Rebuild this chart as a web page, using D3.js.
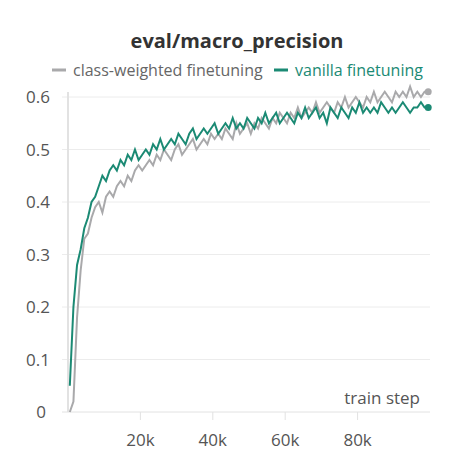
<!DOCTYPE html>
<html><head><meta charset="utf-8">
<script src="https://cdn.jsdelivr.net/npm/d3@7"></script>
<style>body{margin:0;background:#fff;font-family:"Source Sans Pro","Open Sans","Noto Sans",sans-serif}</style>
</head><body><svg id="c" width="474" height="474"></svg>
<script>
const seriesNames = ["class-weighted finetuning","vanilla finetuning"];
const colors = ["#a9a9ab","#1b8a74"];
const yTicks = [0,0.1,0.2,0.3,0.4,0.5,0.6];
const xTicks = [20000,40000,60000,80000];
const weighted = [0.00,0.02,0.18,0.27,0.33,0.34,0.37,0.39,0.40,0.38,0.41,0.42,0.41,0.43,0.44,0.43,0.45,0.44,0.46,0.47,0.46,0.47,0.48,0.47,0.49,0.48,0.50,0.49,0.48,0.50,0.51,0.49,0.50,0.51,0.52,0.50,0.51,0.52,0.51,0.53,
0.52,0.53,0.52,0.54,0.53,0.52,0.55,0.53,0.54,0.55,0.53,0.55,0.54,0.56,0.55,0.54,0.56,0.55,0.57,0.56,0.55,0.57,0.56,0.58,0.56,0.57,0.58,0.57,0.59,0.57,0.58,0.59,0.58,0.57,0.59,0.58,0.60,0.58,0.59,0.60,
0.59,0.58,0.60,0.59,0.61,0.59,0.60,0.61,0.60,0.59,0.61,0.60,0.61,0.60,0.62,0.60,0.61,0.60,0.61,0.61];
const vanilla = [0.05,0.20,0.28,0.31,0.35,0.37,0.40,0.41,0.43,0.45,0.44,0.46,0.47,0.46,0.48,0.47,0.49,0.48,0.50,0.48,0.49,0.50,0.49,0.51,0.50,0.52,0.50,0.51,0.52,0.51,0.53,0.52,0.51,0.53,0.54,0.52,0.53,0.54,0.53,0.54,
0.55,0.53,0.54,0.55,0.54,0.56,0.54,0.55,0.54,0.56,0.55,0.54,0.56,0.55,0.57,0.55,0.56,0.57,0.55,0.56,0.57,0.56,0.55,0.57,0.56,0.58,0.56,0.57,0.58,0.56,0.57,0.55,0.58,0.57,0.56,0.58,0.57,0.56,0.58,0.57,
0.59,0.57,0.58,0.57,0.58,0.57,0.59,0.58,0.57,0.58,0.57,0.58,0.59,0.58,0.57,0.58,0.58,0.59,0.58,0.58];
const steps = d3.range(weighted.length).map(i => 500 + i*1000);

const svg = d3.select("#c");
const x = d3.scaleLinear().domain([0,100000]).range([68,430]);
const y = d3.scaleLinear().domain([0,0.6]).range([412,97]);

svg.append("text").attr("x",237).attr("y",48).attr("text-anchor","middle")
  .attr("font-size",20).attr("font-weight","bold").attr("fill","#333").text("eval/macro_precision");

// legend
const leg = [{x:52,tx:73},{x:274,tx:295}];
seriesNames.forEach((n,i)=>{
  svg.append("line").attr("x1",leg[i].x).attr("x2",leg[i].x+14).attr("y1",70).attr("y2",70)
    .attr("stroke",colors[i]).attr("stroke-width",3);
  svg.append("text").attr("x",leg[i].tx).attr("y",76).attr("font-size",16)
    .attr("fill",i?"#1b8a74":"#666").text(n);
});

// grid
svg.append("g").selectAll("line").data(yTicks.slice(1)).join("line")
  .attr("x1",62).attr("x2",430).attr("y1",d=>y(d)).attr("y2",d=>y(d))
  .attr("stroke","#ececec");
svg.append("line").attr("x1",62).attr("x2",430).attr("y1",y(0)).attr("y2",y(0)).attr("stroke","#e2e2e2");
svg.append("line").attr("x1",68).attr("x2",68).attr("y1",92).attr("y2",412).attr("stroke","#e2e2e2").attr("stroke-width",2);
svg.append("g").selectAll("line").data(xTicks).join("line")
  .attr("x1",d=>x(d)).attr("x2",d=>x(d)).attr("y1",412).attr("y2",420).attr("stroke","#e2e2e2");

svg.append("g").selectAll("text").data(yTicks).join("text")
  .attr("x",d=>d===0?46:50).attr("y",d=>y(d)+6).attr("text-anchor","end").attr("font-size",17).attr("fill","#555")
  .text(d=>d===0?"0":d3.format(".1f")(d));
svg.append("g").selectAll("text").data(xTicks).join("text")
  .attr("x",d=>x(d)).attr("y",446).attr("text-anchor","middle").attr("font-size",17).attr("fill","#555")
  .text(d=>d/1000+"k");
svg.append("text").attr("x",420).attr("y",404).attr("text-anchor","end").attr("font-size",17).attr("fill","#555").text("train step");

const line = d3.line().x((d,i)=>x(steps[i])).y(d=>y(d));
[weighted,vanilla].forEach((s,i)=>{
  svg.append("path").datum(s).attr("d",line).attr("fill","none").attr("stroke",colors[i]).attr("stroke-width",2);
  svg.append("circle").attr("cx",x(steps[s.length-1])).attr("cy",y(s[s.length-1])).attr("r",3.5).attr("fill",colors[i]);
});
</script></body></html>
